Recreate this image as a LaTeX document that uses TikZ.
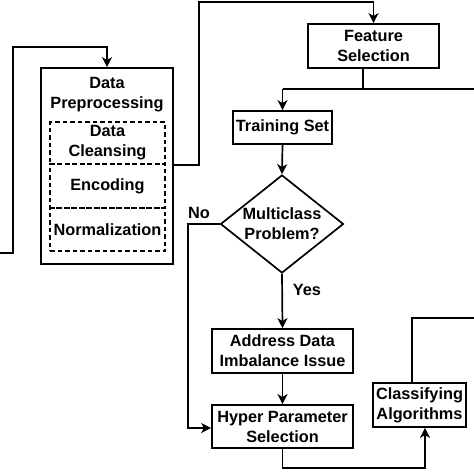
\documentclass[tikz,border=0pt]{standalone}
\usepackage{fontspec}
\setmainfont{Liberation Sans}
\usetikzlibrary{arrows.meta,shapes.geometric}
\begin{document}
\begin{tikzpicture}[x=1pt,y=-1pt,
  font=\bfseries\fontsize{16.3}{20}\selectfont,
  line width=1.7pt, line join=miter,
  box/.style={draw, rectangle, inner sep=0pt, align=center},
  dbox/.style={draw, rectangle, inner sep=0pt, align=center, dash pattern=on 4.5pt off 3pt, line width=1.5pt},
  txt/.style={inner sep=0pt, align=center},
  arr/.style={-{Stealth[length=10pt,width=10pt,inset=2.8pt]}},
  ln/.style={-}]
\path[use as bounding box] (0,0) rectangle (474,474);

% nodes
\node[box, minimum width=132pt, minimum height=196pt] (pre) at (107,166) {};
\node[txt] (pretxt) at (107,95) {Data\\Preprocessing};
\node[dbox, minimum width=115pt, minimum height=42pt] (clean) at (107.5,143) {Data\\Cleansing};
\node[dbox, minimum width=115pt, minimum height=44pt] (enc) at (107.5,186) {Encoding};
\node[dbox, minimum width=115pt, minimum height=43pt] (norm) at (107.5,229.5) {Normalization};

\node[box, minimum width=131pt, minimum height=44pt] (fs) at (373.5,46) {Feature\\Selection};
\node[box, minimum width=99pt, minimum height=33pt] (ts) at (282.5,127.5) {Training Set};
\node[draw, diamond, aspect=1.255, minimum width=123pt, minimum height=98pt, inner sep=0pt, align=center] (dia) at (282,224) {Multiclass\\Problem?};
\node[box, minimum width=141pt, minimum height=44pt] (addr) at (282.5,351) {Address Data\\Imbalance Issue};
\node[box, minimum width=141pt, minimum height=43pt] (hyp) at (282.5,426.5) {Hyper Parameter\\Selection};
\node[box, minimum width=93pt, minimum height=44pt] (cls) at (419.5,405) {Classifying\\Algorithms};

\node[txt] (no) at (199,213) {No};
\node[txt] (yes) at (307,290) {Yes};

% free ends
\coordinate (inL) at (0,253);
\coordinate (outFS) at (474,89);
\coordinate (outCls) at (474,318);

% connectors
\draw[arr] (inL) -- (13,253) -- (13,47) -- (107,47) -- (pre.north);
\draw[arr] (pre.east |- 0,165) -- (199,165) -- (199,2) -- (373.5,2) -- (fs.north);
\draw[ln] ([xshift=-10.5pt]fs.south) -- (363,89);
\draw[ln] (282.5,89) -- (outFS);
\draw[arr] (282.5,89) -- (ts.north);
\draw[arr] (ts.south) -- (dia.north);
\draw[arr] (dia.west) -- (188,224) -- (188,428) -- (hyp.west |- 0,428);
\draw[arr] (dia.south) -- (addr.north);
\draw[arr] (addr.south) -- (hyp.north);
\draw[arr] (hyp.south) -- (282.5,468) -- (425,468) -- (cls.south -| 425,0);
\draw[ln] (cls.north -| 412,0) -- (412,318) -- (outCls);
\end{tikzpicture}
\end{document}
